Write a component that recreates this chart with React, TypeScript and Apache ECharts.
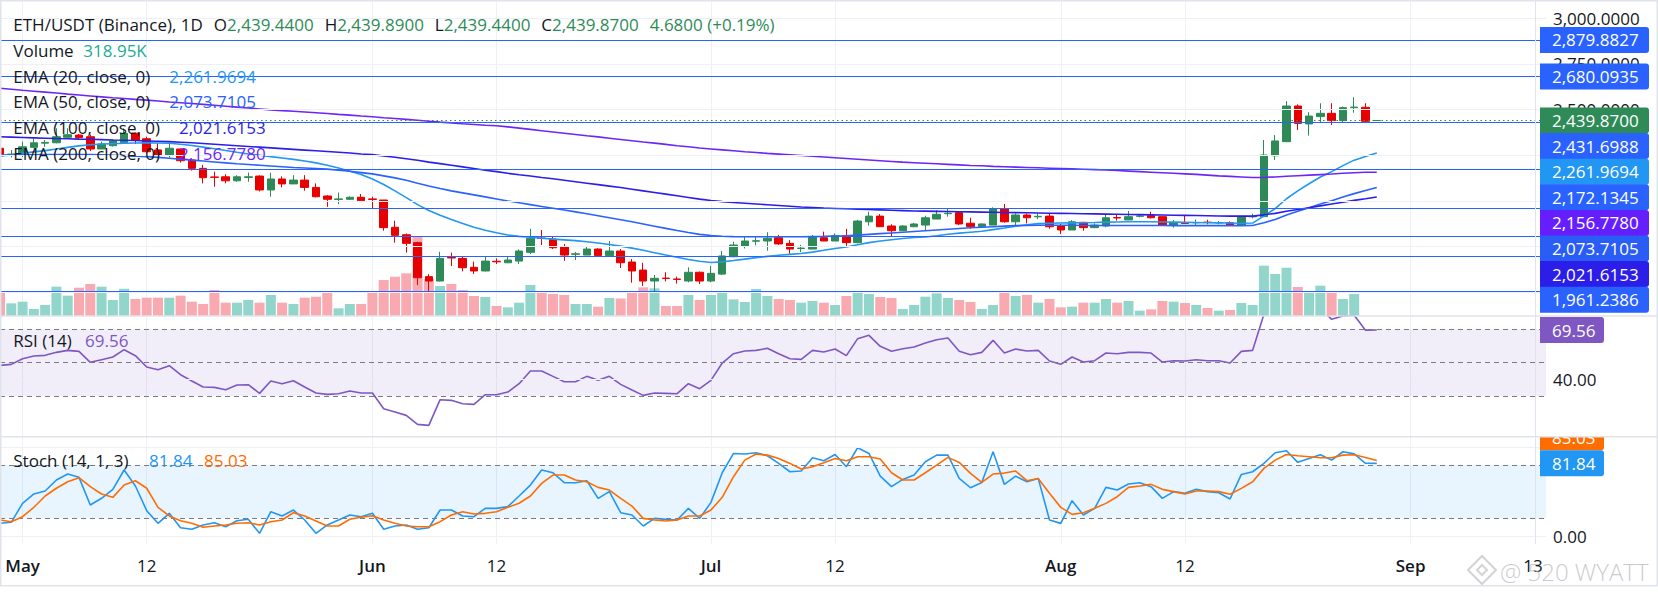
import React, { useEffect, useRef } from "react";
import * as echarts from "echarts";

// ---------- layout / style constants ----------
const W = 1658;
const H = 596;
const FONT = '"Open Sans", "Noto Sans", sans-serif';
const TEXT = "#131722";
const UP = "#2e8b57";
const DOWN = "#e60000";
const VOL_UP = "#92d6cb";
const VOL_DOWN = "#f9a9b0";
const LINE_BLUE = "#2962ff";
const GRID_COLOR = "#eef0f5";
const SEP_COLOR = "#e0e3eb";
const DASH_COLOR = "#787b86";
const RSI_COLOR = "#7e57c2";
const K_COLOR = "#2196f3";
const D_COLOR = "#ff6d00";

// ---------- data ----------
// one category per day, Apr 29 → Sep 13
const FIRST_DAY = Date.UTC(2023, 3, 29);
const DAY_MS = 86400000;
const DAY_COUNT = 138;
const categories: string[] = Array.from({ length: DAY_COUNT }, (_, i) => {
  const d = new Date(FIRST_DAY + i * DAY_MS);
  return `${String(d.getUTCMonth() + 1).padStart(2, "0")}-${String(d.getUTCDate()).padStart(2, "0")}`;
});

const tickLabels: [string, string][] = [
  ["05-01", "May"], ["05-12", "12"], ["06-01", "Jun"], ["06-12", "12"], ["07-01", "Jul"],
  ["07-12", "12"], ["08-01", "Aug"], ["08-12", "12"], ["09-01", "Sep"], ["09-13", "13"],
];
const monthNames = ["May", "Jun", "Jul", "Aug", "Sep"];

// [open, close, low, high], Apr 29 → Aug 29
const ohlc: number[][] = [
  [2288, 2246, 2238, 2296], [2251, 2256, 2238, 2278], [2251, 2296, 2240, 2324], [2293, 2318, 2288, 2342],
  [2316, 2320, 2296, 2333], [2318, 2351, 2315, 2397], [2348, 2362, 2346, 2397], [2360, 2346, 2339, 2366],
  [2351, 2284, 2273, 2362], [2284, 2311, 2284, 2324], [2302, 2329, 2297, 2338], [2318, 2370, 2315, 2397],
  [2370, 2333, 2311, 2373], [2340, 2269, 2260, 2351], [2279, 2251, 2246, 2316], [2251, 2288, 2237, 2318],
  [2284, 2220, 2210, 2288], [2224, 2178, 2166, 2228], [2178, 2127, 2096, 2197], [2131, 2129, 2078, 2160],
  [2132, 2110, 2096, 2146], [2110, 2132, 2105, 2141], [2128, 2132, 2105, 2155], [2136, 2060, 2052, 2140],
  [2060, 2120, 2023, 2154], [2120, 2093, 2074, 2134], [2093, 2114, 2092, 2141], [2114, 2074, 2056, 2141],
  [2074, 2023, 2019, 2096], [2027, 2009, 1968, 2032], [2008, 2011, 1982, 2046], [2009, 2020, 2005, 2025],
  [2020, 2001, 1994, 2038], [2011, 2008, 1960, 2023], [2005, 1854, 1837, 2005], [1856, 1812, 1772, 1892],
  [1815, 1768, 1717, 1822], [1772, 1580, 1540, 1777], [1586, 1562, 1504, 1600], [1562, 1686, 1560, 1722],
  [1691, 1688, 1644, 1717], [1686, 1635, 1615, 1697], [1637, 1617, 1600, 1668], [1617, 1671, 1615, 1695],
  [1670, 1667, 1655, 1686], [1662, 1677, 1660, 1695], [1671, 1726, 1655, 1735], [1719, 1796, 1710, 1847],
  [1797, 1795, 1759, 1841], [1792, 1744, 1737, 1808], [1748, 1704, 1673, 1764], [1708, 1711, 1677, 1721],
  [1704, 1737, 1704, 1750], [1737, 1701, 1700, 1741], [1701, 1726, 1701, 1781], [1726, 1662, 1633, 1737],
  [1666, 1617, 1553, 1682], [1622, 1562, 1535, 1662], [1562, 1577, 1504, 1595], [1578, 1576, 1560, 1610],
  [1573, 1571, 1548, 1586], [1562, 1610, 1555, 1637], [1610, 1562, 1546, 1614], [1562, 1604, 1555, 1644],
  [1600, 1699, 1595, 1726], [1695, 1759, 1692, 1777], [1753, 1781, 1740, 1806], [1780, 1782, 1757, 1804],
  [1781, 1796, 1728, 1829], [1799, 1765, 1759, 1814], [1768, 1737, 1711, 1786], [1740, 1742, 1720, 1760],
  [1737, 1801, 1737, 1814], [1799, 1781, 1781, 1832], [1781, 1810, 1781, 1823], [1810, 1772, 1750, 1847],
  [1772, 1890, 1768, 1896], [1886, 1917, 1865, 1941], [1917, 1859, 1859, 1928], [1863, 1837, 1804, 1872],
  [1837, 1863, 1837, 1868], [1859, 1874, 1856, 1880], [1868, 1908, 1841, 1919], [1901, 1927, 1901, 1950],
  [1930, 1933, 1914, 1960], [1936, 1874, 1868, 1941], [1878, 1859, 1848, 1908], [1859, 1874, 1857, 1877],
  [1868, 1956, 1868, 1965], [1956, 1886, 1881, 1983], [1886, 1923, 1859, 1932], [1923, 1908, 1877, 1932],
  [1913, 1916, 1901, 1932], [1917, 1859, 1848, 1932], [1863, 1841, 1819, 1874], [1841, 1886, 1841, 1895],
  [1883, 1854, 1837, 1886], [1854, 1868, 1851, 1877], [1863, 1908, 1856, 1926], [1909, 1907, 1892, 1923],
  [1896, 1914, 1896, 1945], [1916, 1918, 1910, 1926], [1919, 1908, 1904, 1941], [1914, 1868, 1868, 1917],
  [1868, 1881, 1854, 1896], [1879, 1877, 1874, 1919], [1880, 1882, 1866, 1899], [1884, 1882, 1872, 1897],
  [1880, 1882, 1872, 1890], [1881, 1868, 1866, 1888], [1868, 1914, 1866, 1917], [1913, 1915, 1905, 1930],
  [1914, 2251, 1911, 2333], [2247, 2328, 2224, 2360], [2324, 2519, 2324, 2546], [2519, 2424, 2388, 2528],
  [2421, 2464, 2357, 2485], [2461, 2479, 2430, 2534], [2479, 2439, 2415, 2534], [2439, 2510, 2430, 2516],
  [2510, 2513, 2482, 2567], [2512, 2435.19, 2430, 2534], [2439.44, 2439.87, 2439.44, 2439.89],
];

// volume in K
const volume: (number | null)[] = [
  300, 152, 172, 84, 132, 352, 244, 340, 384, 352,
  192, 328, 204, 220, 220, 220, 244, 172, 144, 312,
  160, 160, 192, 160, 252, 160, 144, 220, 232, 292,
  92, 144, 144, 300, 432, 472, 512, 948, 444, 360,
  384, 312, 240, 228, 120, 104, 160, 372, 292, 264,
  252, 144, 144, 112, 216, 210, 276, 344, 332, 120,
  120, 252, 192, 252, 292, 200, 168, 324, 240, 204,
  192, 160, 180, 160, 132, 240, 292, 264, 228, 216,
  84, 132, 232, 272, 216, 192, 168, 84, 132, 292,
  240, 252, 160, 204, 104, 112, 160, 160, 204, 160,
  180, 64, 80, 180, 172, 156, 132, 96, 64, 72,
  156, 132, 604, 504, 580, 348, 300, 364, 276, 204,
  264, null, null,
];
const VOLUME_LAST = "318.95K";

const ema20: number[] = [
  2246, 2252, 2260, 2268, 2275, 2284, 2293, 2301, 2307, 2311,
  2313, 2315, 2317, 2318, 2317, 2315, 2310, 2303, 2294, 2285,
  2276, 2266, 2257, 2250, 2242, 2235, 2227, 2218, 2208, 2195,
  2180, 2162, 2144, 2120, 2090, 2055, 2018, 1980, 1948, 1922,
  1898, 1876, 1856, 1840, 1826, 1814, 1806, 1801, 1796, 1791,
  1787, 1783, 1777, 1770, 1762, 1753, 1742, 1730, 1717, 1704,
  1692, 1680, 1670, 1663, 1667, 1674, 1682, 1690, 1697, 1703,
  1708, 1713, 1720, 1730, 1740, 1748, 1760, 1772, 1781, 1788,
  1795, 1800, 1803, 1810, 1818, 1824, 1829, 1834, 1843, 1852,
  1862, 1870, 1876, 1878, 1879, 1880, 1881, 1882, 1884, 1885,
  1886, 1886, 1886, 1885, 1884, 1883, 1882, 1881, 1880, 1879,
  1878, 1879, 1918, 1958, 2012, 2055, 2094, 2131, 2160, 2193,
  2223, 2243, 2261.9694,
];
const ema50: number[] = [
  2251, 2251, 2252, 2252, 2253, 2253, 2254, 2254, 2253, 2252,
  2250, 2248, 2245, 2242, 2238, 2233, 2228, 2223, 2218, 2213,
  2208, 2203, 2199, 2195, 2191, 2187, 2183, 2180, 2177, 2174,
  2168, 2162, 2155, 2148, 2137, 2126, 2113, 2097, 2082, 2068,
  2055, 2044, 2033, 2022, 2011, 2000, 1990, 1980, 1970, 1960,
  1950, 1940, 1930, 1919, 1908, 1897, 1886, 1874, 1862, 1850,
  1838, 1827, 1817, 1811, 1807, 1805, 1804, 1804, 1804, 1804,
  1804, 1804, 1805, 1806, 1808, 1810, 1813, 1817, 1821, 1825,
  1829, 1833, 1837, 1841, 1845, 1849, 1853, 1856, 1859, 1862,
  1865, 1866, 1867, 1867, 1867, 1867, 1866, 1866, 1866, 1866,
  1866, 1866, 1866, 1866, 1865, 1865, 1865, 1865, 1865, 1865,
  1865, 1866, 1881, 1899, 1923, 1943, 1963, 1983, 2001, 2021,
  2040, 2057, 2073.7105,
];
const ema100: number[] = [
  2351, 2349, 2347, 2345, 2343, 2341, 2340, 2338, 2337, 2335,
  2333, 2332, 2330, 2328, 2326, 2324, 2321, 2318, 2314, 2310,
  2306, 2302, 2298, 2294, 2290, 2286, 2282, 2278, 2274, 2270,
  2266, 2262, 2257, 2253, 2246, 2239, 2231, 2222, 2212, 2204,
  2195, 2186, 2177, 2168, 2160, 2151, 2143, 2136, 2128, 2121,
  2113, 2105, 2097, 2089, 2081, 2073, 2064, 2055, 2046, 2037,
  2028, 2019, 2010, 2002, 1996, 1991, 1987, 1983, 1979, 1975,
  1971, 1967, 1964, 1961, 1959, 1957, 1955, 1953, 1951, 1949,
  1947, 1945, 1944, 1943, 1942, 1941, 1940, 1939, 1938, 1937,
  1936, 1935, 1934, 1933, 1932, 1931, 1930, 1929, 1928, 1927,
  1926, 1925, 1924, 1923, 1922, 1921, 1920, 1919, 1918, 1917,
  1917, 1917, 1924, 1932, 1944, 1953, 1963, 1973, 1983, 1993,
  2003, 2012, 2021.6153,
];
const ema200: number[] = [
  2616, 2611, 2605, 2600, 2595, 2590, 2584, 2579, 2574, 2569,
  2564, 2560, 2555, 2551, 2546, 2541, 2537, 2533, 2528, 2523,
  2518, 2513, 2508, 2503, 2498, 2494, 2490, 2486, 2482, 2478,
  2473, 2469, 2464, 2460, 2455, 2451, 2446, 2441, 2436, 2431,
  2427, 2422, 2418, 2414, 2411, 2405, 2398, 2391, 2384, 2377,
  2370, 2363, 2356, 2350, 2343, 2336, 2329, 2322, 2316, 2309,
  2302, 2296, 2289, 2284, 2279, 2274, 2269, 2265, 2260, 2256,
  2252, 2248, 2244, 2240, 2236, 2232, 2228, 2224, 2220, 2216,
  2212, 2209, 2206, 2203, 2200, 2197, 2194, 2192, 2189, 2187,
  2185, 2183, 2181, 2179, 2177, 2175, 2173, 2171, 2169, 2166,
  2163, 2160, 2157, 2154, 2151, 2148, 2145, 2141, 2137, 2134,
  2131, 2128, 2129, 2131, 2135, 2138, 2141, 2144, 2147, 2151,
  2154, 2157, 2156.778,
];

// user-drawn horizontal levels
const levels: number[] = [2879.8827, 2680.0935, 2431.6988, 2172.1345, 1961.2386, 1808.3, 1697.3, 1507.6];
const priceTicks: number[] = [1500, 1750, 2000, 2250, 2500, 2750, 3000];

const rsi: number[] = [
  48.4, 49, 52.4, 54, 54.4, 56.2, 57.4, 56.8, 50.2, 51.8,
  53.4, 57.8, 54.2, 47.4, 45.8, 48.2, 42.8, 39, 35.4, 35.2,
  33.8, 36.6, 36.8, 31.6, 39, 37.4, 39.2, 35.4, 31.8, 31,
  31.4, 33, 31.8, 31.8, 22.4, 20.4, 18.4, 13, 12.4, 27.8,
  27.4, 25.4, 25, 30.8, 30.8, 32.4, 37.4, 45, 45, 41.8,
  38.6, 38.6, 41.8, 39.4, 41.8, 37, 33.6, 30.4, 31.8, 31.6,
  31.4, 37.4, 34.4, 39.4, 49.8, 55.4, 57, 57.4, 58.6, 55.4,
  52.4, 52, 57.4, 56.4, 58.2, 54.2, 64.4, 66.4, 59.8, 56.8,
  58.4, 59.4, 61.8, 63.8, 64.8, 56.8, 54.8, 56.2, 63.4, 55.8,
  58.2, 57, 57.4, 51, 49, 53.4, 50.4, 51.2, 55.8, 55.4,
  56.2, 56.2, 55.8, 50.4, 51.2, 51, 51.8, 51.2, 51.2, 49.8,
  56.8, 57.4, 79, 81, 87, 80, 82, 83, 76, 78,
  78.5, 69.5, 69.56,
];
const rsiLevels: number[] = [70, 50, 30];

const stochK: number[] = [
  14.4, 15.5, 36.9, 47.4, 50.7, 63.1, 69.9, 66.1, 35, 42.5,
  52.6, 74.4, 56.4, 28.6, 14.4, 25.6, 9.4, 7.6, 12.5, 15,
  10.5, 17.3, 18.9, 3.1, 27.4, 22.6, 29.3, 18.1, 3.1, 12.5,
  18.1, 23.7, 21.8, 25.6, 7.6, 11.3, 12.5, 7.6, 9.4, 29.3,
  29.3, 22.6, 21.8, 31.2, 31.2, 33.1, 45.1, 57.4, 74.3, 71.3,
  60.1, 60.1, 62.3, 42.4, 50, 26.3, 23.7, 11.3, 19.9, 18.8,
  18.1, 31.2, 19.9, 37.9, 71.3, 93, 92.3, 93.8, 90.4, 81.8,
  72.4, 73.2, 88.2, 84.8, 91.9, 78.1, 99.4, 93, 67.5, 55.6,
  63.8, 68.7, 83.7, 91.1, 91.1, 64.9, 54.4, 60.4, 94.9, 58.2,
  67.5, 61.1, 64.9, 18.1, 14.3, 39.8, 23.7, 31.2, 54.8, 51.8,
  58.6, 60.1, 55.6, 42.4, 50, 48.1, 52.6, 50, 48.8, 41.7,
  69.4, 72.4, 81.8, 93.8, 96, 83, 87.4, 91.5, 85.5, 94.9,
  92.5, 81.9, 81.84,
];
const stochD: number[] = [
  18.1, 16.2, 21.8, 32.4, 45.1, 53.8, 61.2, 65.7, 55.6, 47.4,
  43.6, 57.5, 62.3, 53.8, 32.4, 22.6, 17.3, 14.4, 9.9, 11.3,
  12.5, 14.4, 15, 12.5, 16.2, 18.1, 26.3, 22.6, 17, 11.3,
  11.3, 18.9, 21.1, 22.9, 18.1, 14.4, 11.3, 10.5, 10.5, 16.2,
  23.7, 27.4, 24.9, 25.6, 27.4, 32.4, 36.9, 45.1, 59.3, 68.7,
  68.7, 63.1, 61.1, 54.8, 51.8, 42.4, 33.8, 19.9, 18.1, 17,
  18.1, 22.6, 22.6, 29.3, 43.6, 66.8, 85.5, 92.3, 91.1, 87.4,
  81.8, 75.4, 78.1, 82.6, 87.4, 84.8, 89.3, 89.3, 86.7, 71.3,
  63.1, 63.1, 71.3, 79.9, 88.6, 82.9, 70.6, 60.4, 69.8, 70.9,
  73.2, 62.3, 64.9, 48.1, 32.3, 24.4, 26.3, 31.2, 36.8, 44.3,
  54.8, 56.3, 58.2, 52.6, 50, 47.3, 50.7, 50.7, 50, 47,
  53.7, 61.1, 76.2, 85.5, 91.9, 90.4, 89.3, 88.2, 88.2, 91.1,
  91.5, 88.5, 85.03,
];
const stochLevels: number[] = [80, 20];

// ---------- helpers ----------
const fmt = (v: number, digits: number) =>
  v.toLocaleString("en-US", { minimumFractionDigits: digits, maximumFractionDigits: digits });
const last = (a: number[]) => a[a.length - 1];
const tickMap = new Map(tickLabels);

// axis ranges (pane geometry)
const PRICE_MIN = 1370.86;
const PRICE_MAX = 3087.64;
const VOL_MAX = 3768;
const RSI_MIN = 5.6;
const RSI_MAX = 78;
const ST_MIN = -8.93;
const ST_MAX = 111.86;

const GRID_LEFT = 0;
const GRID_WIDTH = (DAY_COUNT - 1) * 11.285;
const PANES = [
  { top: 2, height: 314 },
  { top: 316, height: 120.7 },
  { top: 436.7, height: 107.3 },
];

function buildOption(): any {
  const xAxis = PANES.map((_, gi) => ({
    type: "category",
    gridIndex: gi,
    data: categories,
    boundaryGap: false,
    axisLine: { show: false },
    axisTick: { show: false },
    splitLine: {
      show: true,
      interval: (i: number, v: string) => tickMap.has(v) && i < DAY_COUNT - 1,
      lineStyle: { color: GRID_COLOR, width: 1 },
    },
    axisLabel:
      gi === 2
        ? {
            show: true,
            interval: (_i: number, v: string) => tickMap.has(v),
            margin: 13,
            formatter: (v: string) => {
              const t = tickMap.get(v) as string;
              if (monthNames.includes(t)) return `{m|${t}}`;
              if (v === tickLabels[tickLabels.length - 1][0]) return `{e|${t}}`;
              return `{n|${t}}`;
            },
            rich: {
              m: { fontFamily: FONT, fontSize: 17, fontWeight: 600, color: TEXT },
              n: { fontFamily: FONT, fontSize: 17, color: TEXT },
              e: { fontFamily: FONT, fontSize: 17, color: TEXT, padding: [0, 26, 0, 0] },
            },
          }
        : { show: false },
  }));

  const hiddenY = (gi: number, min: number, max: number) => ({
    type: "value",
    gridIndex: gi,
    min,
    max,
    show: false,
    splitLine: { show: false },
  });

  const noMarkerAnim = { animation: false, silent: true, symbol: ["none", "none"], label: { show: false } };
  const nulls = categories.map(() => null);

  return {
    animation: false,
    backgroundColor: "#ffffff",
    grid: PANES.map((p) => ({ left: GRID_LEFT, width: GRID_WIDTH, top: p.top, height: p.height })),
    xAxis,
    yAxis: [
      hiddenY(0, PRICE_MIN, PRICE_MAX),
      hiddenY(0, 0, VOL_MAX),
      hiddenY(1, RSI_MIN, RSI_MAX),
      hiddenY(2, ST_MIN, ST_MAX),
    ],
    series: [
      // price grid lines
      {
        type: "line", xAxisIndex: 0, yAxisIndex: 0, data: nulls, silent: true, z: 0,
        markLine: {
          ...noMarkerAnim,
          lineStyle: { color: GRID_COLOR, width: 1, type: "solid" },
          data: priceTicks.map((v) => ({ yAxis: v })),
        },
      },
      // volume
      {
        name: "Volume", type: "bar", xAxisIndex: 0, yAxisIndex: 1, barWidth: 10, silent: true, z: 1,
        data: volume.map((v, i) =>
          v == null
            ? null
            : { value: v, itemStyle: { color: ohlc[i][1] >= ohlc[i][0] ? VOL_UP : VOL_DOWN } }
        ),
      },
      // candles
      {
        name: "ETH/USDT", type: "candlestick", xAxisIndex: 0, yAxisIndex: 0, barWidth: 8, silent: true, z: 3,
        itemStyle: { color: UP, color0: DOWN, borderColor: UP, borderColor0: DOWN, borderWidth: 1 },
        data: ohlc,
        markLine: {
          ...noMarkerAnim,
          data: [
            ...levels.map((v) => ({ yAxis: v, lineStyle: { color: LINE_BLUE, width: 1, type: "solid" } })),
            { yAxis: last(ohlc)[1], lineStyle: { color: UP, width: 1, type: [1.5, 3] } },
          ],
        },
      },
      ...[
        { name: "EMA20", data: ema20, color: "#2196f3" },
        { name: "EMA50", data: ema50, color: LINE_BLUE },
        { name: "EMA100", data: ema100, color: "#2b1ee9" },
        { name: "EMA200", data: ema200, color: "#6c27f5" },
      ].map((s) => ({
        name: s.name, type: "line", xAxisIndex: 0, yAxisIndex: 0, data: s.data, showSymbol: false,
        silent: true, z: 4, lineStyle: { color: s.color, width: 1.6 },
      })),
      // RSI pane
      {
        name: "RSI", type: "line", xAxisIndex: 1, yAxisIndex: 2, data: rsi, showSymbol: false, silent: true, z: 4,
        lineStyle: { color: RSI_COLOR, width: 1.6 },
        markArea: {
          silent: true, animation: false,
          itemStyle: { color: "rgba(126,87,194,0.1)" },
          data: [[{ yAxis: rsiLevels[0] }, { yAxis: rsiLevels[2] }]],
        },
        markLine: {
          ...noMarkerAnim,
          data: [
            ...rsiLevels.map((v) => ({ yAxis: v, lineStyle: { color: DASH_COLOR, width: 1, type: [5, 4] } })),
            { yAxis: 40, lineStyle: { color: GRID_COLOR, width: 1, type: "solid" } },
          ],
        },
      },
      // Stoch pane
      {
        name: "%K", type: "line", xAxisIndex: 2, yAxisIndex: 3, data: stochK, showSymbol: false, silent: true, z: 4,
        lineStyle: { color: K_COLOR, width: 1.6 },
        markArea: {
          silent: true, animation: false,
          itemStyle: { color: "rgba(33,150,243,0.1)" },
          data: [[{ yAxis: stochLevels[0] }, { yAxis: stochLevels[1] }]],
        },
        markLine: {
          ...noMarkerAnim,
          data: [
            ...stochLevels.map((v) => ({ yAxis: v, lineStyle: { color: DASH_COLOR, width: 1, type: [5, 4] } })),
            { yAxis: 0, lineStyle: { color: GRID_COLOR, width: 1, type: "solid" } },
            { yAxis: 100, lineStyle: { color: GRID_COLOR, width: 1, type: "solid" } },
          ],
        },
      },
      {
        name: "%D", type: "line", xAxisIndex: 2, yAxisIndex: 3, data: stochD, showSymbol: false, silent: true, z: 5,
        lineStyle: { color: D_COLOR, width: 1.6 },
      },
    ],
  };
}

function txt(x: number, y: number, text: string, fill: string, extra: any = {}, z = 100): any {
  return {
    type: "text", x, y, z, silent: true,
    style: { text, fill, font: `17px ${FONT}`, verticalAlign: "middle", align: "left", ...extra },
  };
}
function box(x: number, yc: number, w: number, text: string, color: string, z = 101): any[] {
  return [
    { type: "rect", z, silent: true, shape: { x, y: yc - 13, width: w, height: 26, r: [0, 3, 3, 0] }, style: { fill: color } },
    txt(x + 12, yc, text, "#ffffff", {}, z + 1),
  ];
}

function buildGraphic(chart: any): any[] {
  const py = (axis: number, v: number) => chart.convertToPixel({ yAxisIndex: axis }, v) as number;
  const g: any[] = [];
  const AX = 1553;
  const BX = 1540;

  // --- legends ---
  const lc = last(ohlc);
  const prevClose = ohlc[ohlc.length - 2][1];
  const chg = lc[1] - prevClose;
  const pct = (chg / prevClose) * 100;
  g.push({
    type: "text", x: 13.3, y: 24, z: 100, silent: true,
    style: {
      text:
        `{t|ETH/USDT (Binance), 1D}{k|O}{v|${fmt(lc[0], 4)}}{k|H}{v|${fmt(lc[3], 4)}}` +
        `{k|L}{v|${fmt(lc[2], 4)}}{k|C}{v|${fmt(lc[1], 4)}}{c|${fmt(chg, 4)} (${chg >= 0 ? "+" : ""}${fmt(pct, 2)}%)}`,
      font: `17px ${FONT}`,
      verticalAlign: "middle",
      rich: {
        t: { fill: TEXT, font: `17px ${FONT}` },
        k: { fill: TEXT, font: `17px ${FONT}`, padding: [0, 0, 0, 11] },
        v: { fill: UP, font: `17px ${FONT}` },
        c: { fill: UP, font: `17px ${FONT}`, padding: [0, 0, 0, 11] },
      },
    },
  });
  g.push(txt(13.3, 50, "Volume", TEXT), txt(83.3, 50, VOLUME_LAST, "#22ab94"));
  const emaRows: [string, number[], string, number, number][] = [
    ["EMA (20, close, 0)", ema20, "#2196f3", 76, 169.3],
    ["EMA (50, close, 0)", ema50, LINE_BLUE, 101.7, 169.3],
    ["EMA (100, close, 0)", ema100, "#2b1ee9", 127.7, 179],
    ["EMA (200, close, 0)", ema200, "#6c27f5", 153.3, 179],
  ];
  emaRows.forEach(([label, arr, color, y, vx]) => {
    g.push(txt(13.3, y, label, TEXT), txt(vx, y, fmt(last(arr), 4), color));
  });
  g.push(txt(13.3, 340, "RSI (14)", TEXT), txt(85, 340, fmt(last(rsi), 2), RSI_COLOR));
  g.push(
    txt(13.3, 460, "Stoch (14, 1, 3)", TEXT),
    txt(149, 460, fmt(last(stochK), 2), K_COLOR),
    txt(204, 460, fmt(last(stochD), 2), D_COLOR)
  );

  // --- stacked price labels ---
  const labels: [number, string][] = [
    ...levels.map((v) => [v, LINE_BLUE] as [number, string]),
    [lc[1], UP],
    [last(ema20), "#2196f3"],
    [last(ema50), "#2a5cf6"],
    [last(ema100), "#2b1ee9"],
    [last(ema200), "#651fff"],
  ];
  labels.sort((a, b) => b[0] - a[0]);
  let prev = -Infinity;
  const paneBottom = PANES[0].top + PANES[0].height;
  const covered: [number, number][] = [];
  labels.forEach(([v, color]) => {
    const yc = Math.max(py(0, v), prev + 25.6);
    prev = yc;
    if (yc + 13 <= paneBottom + 1) {
      g.push(...box(BX, yc, 109, fmt(v, 4), color));
      const lastC = covered[covered.length - 1];
      if (lastC && yc - 13 <= lastC[1] + 0.5) lastC[1] = yc + 13;
      else covered.push([yc - 13, yc + 13]);
    }
  });

  // --- price scale tick labels (only those not entirely hidden by the labels) ---
  priceTicks.forEach((v) => {
    const y = py(0, v);
    const hidden = covered.some(([a, b]) => a <= y - 6 && b >= y + 6);
    if (!hidden && y > PANES[0].top + 6 && y < paneBottom - 6) g.push(txt(AX, y, fmt(v, 4), TEXT));
  });
  g.push(txt(AX, py(2, 40), "40.00", TEXT));
  g.push(txt(AX, py(3, 0), "0.00", TEXT));

  // RSI value label
  g.push(...box(BX, py(2, last(rsi)), 64, fmt(last(rsi), 2), RSI_COLOR));
  // Stoch value labels (D stacked above K, clipped at pane top)
  const kY = py(3, last(stochK));
  g.push(...box(BX, kY - 26, 64, fmt(last(stochD), 2), D_COLOR, 101));
  g.push({ type: "rect", z: 103, silent: true, shape: { x: 1536, y: 405, width: 122, height: PANES[2].top - 405 }, style: { fill: "#ffffff" } });
  g.push(...box(BX, kY, 64, fmt(last(stochK), 2), K_COLOR, 104));

  // --- separators / borders ---
  const sep = (x1: number, y1: number, x2: number, y2: number, w = 1) => ({
    type: "line", z: 106, silent: true, shape: { x1, y1, x2, y2 }, style: { stroke: SEP_COLOR, lineWidth: w },
  });
  g.push(sep(0, PANES[1].top, W, PANES[1].top, 1.5));
  g.push(sep(0, PANES[2].top, W, PANES[2].top, 1.5));
  g.push(sep(1535.5, 0, 1535.5, PANES[2].top + PANES[2].height));
  g.push({
    type: "rect", z: 106, silent: true,
    shape: { x: 0.75, y: 0.75, width: W - 1.5, height: 585 },
    style: { fill: "none", stroke: SEP_COLOR, lineWidth: 1.5 },
  });

  // --- watermark ---
  const cx = 1482, cy = 570;
  g.push({
    type: "polygon", z: 107, silent: true,
    shape: { points: [[cx, cy - 14], [cx + 14, cy], [cx, cy + 14], [cx - 14, cy]] },
    style: { fill: "none", stroke: "rgba(200,200,200,0.8)", lineWidth: 2 },
  });
  g.push({
    type: "polygon", z: 107, silent: true,
    shape: { points: [[cx, cy - 5], [cx + 5, cy], [cx, cy + 5], [cx - 5, cy]] },
    style: { fill: "none", stroke: "rgba(200,200,200,0.8)", lineWidth: 2 },
  });
  g.push(txt(1500, 571, "@ 520 WYATT", "rgba(185,185,185,0.75)", { font: `300 24px ${FONT}` }, 107));
  return g;
}

export default function App() {
  const ref = useRef<HTMLDivElement>(null);
  useEffect(() => {
    document.body.style.margin = "0";
    const chart = echarts.init(ref.current as HTMLDivElement, null, { renderer: "svg", width: W, height: H });
    chart.setOption(buildOption());
    chart.setOption({ graphic: buildGraphic(chart) });
    return () => chart.dispose();
  }, []);
  return <div ref={ref} style={{ width: W, height: H, background: "#fff" }} />;
}
